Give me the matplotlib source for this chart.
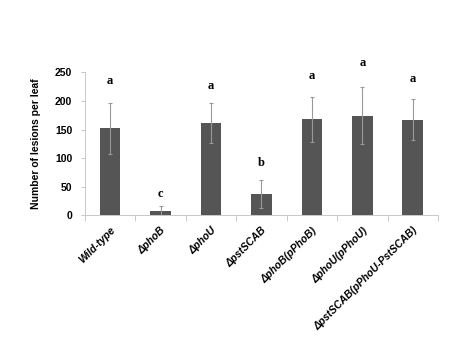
import matplotlib
matplotlib.use("Agg")
import matplotlib.pyplot as plt
import numpy as np

categories = ["Wild-type", "ΔphoB", "ΔphoU", "ΔpstSCAB", "ΔphoB(pPhoB)", "ΔphoU(pPhoU)", "ΔpstSCAB(pPhoU-PstSCAB)"]
values = [152, 7, 161, 37, 168, 174, 167]
errors = [45, 9, 35, 25, 39, 50, 36]
letters = ["a", "c", "a", "b", "a", "a", "a"]
letter_y = [235, 37, 226, 91, 243, 266, 239]
yticks = [0, 50, 100, 150, 200, 250]

fig = plt.figure(figsize=(4.74, 3.55), dpi=100)
ax = fig.add_axes([0.179, 0.3935, 0.745, 0.4025])
x = np.arange(len(categories))
ax.bar(x, values, width=0.41, color="#555555", zorder=2)
ax.errorbar(x, values, yerr=errors, fmt="none", ecolor="#999999", elinewidth=0.8, capsize=1.2, capthick=0.8, zorder=3)
for xi, l, ly in zip(x, letters, letter_y):
    ax.text(xi, ly, l, ha="center", va="center", fontsize=9, fontweight="bold", family="Liberation Serif", clip_on=False)

ax.set_xlim(-0.5, len(categories) - 0.5)
ax.set_ylim(0, 250)
ax.set_yticks(yticks)
ax.set_yticklabels([str(t) for t in yticks], fontsize=7.5, fontweight="bold", family="Liberation Sans")
ax.set_xticks(x)
ax.set_xticklabels(categories, rotation=45, ha="right", rotation_mode="anchor", fontsize=7.5,
                   fontweight="bold", fontstyle="italic", family="Liberation Sans")
ax.tick_params(axis="x", length=0, pad=7)
ax.set_xticks(np.arange(len(categories) + 1) - 0.5, minor=True)
ax.tick_params(axis="x", which="minor", length=4, color="#c8c8c8", width=0.7)
ax.tick_params(axis="y", length=3, color="#c8c8c8", width=0.7, pad=6)
for s in ["top", "right"]:
    ax.spines[s].set_visible(False)
ax.spines["left"].set_color("#c8c8c8")
ax.spines["bottom"].set_color("#c8c8c8")
ax.spines["left"].set_linewidth(0.7)
ax.spines["bottom"].set_linewidth(0.7)
ax.set_ylabel("Number of lesions per leaf", fontsize=7.5, fontweight="bold", family="Liberation Sans", labelpad=10)
fig.savefig("out.png", dpi=100)
